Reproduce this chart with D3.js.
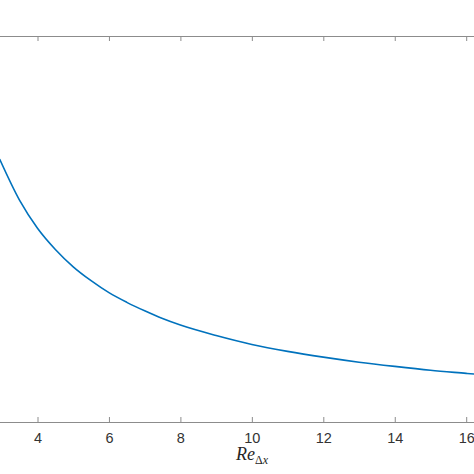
<!DOCTYPE html>
<html>
<head>
<meta charset="utf-8">
<script src="https://cdn.jsdelivr.net/npm/d3@7"></script>
<style>
  body { margin: 0; background: #fff; }
  .tick text { font-family: "Liberation Sans", Arial, sans-serif; font-size: 14.5px; fill: #333; }
  .axis-title { font-family: "Liberation Serif", "DejaVu Serif", serif; fill: #262626; }
</style>
</head>
<body>
<svg id="canvas"></svg>
<script>
// Curve samples (Re_dx, value).
var reValues = [2.94, 3.5, 4, 4.5, 5, 5.5, 6, 6.5, 7, 7.5, 8, 9, 10, 11, 12, 13, 14, 15, 16, 16.5];
var yValues = [0.681, 0.574, 0.502, 0.447, 0.402, 0.366, 0.335, 0.310, 0.288, 0.268, 0.251, 0.224, 0.201, 0.183, 0.168, 0.155, 0.144, 0.134, 0.126, 0.122];

// Tick values shown on the x axis.
var xTicks = [4, 6, 8, 10, 12, 14, 16];

// Canvas properties.
var canvas = { width: 474, height: 474 };

// Plot box (part of it is outside the picture).
var box = { top: 36, bottom: 422 };

var svg = d3.select('#canvas')
            .attr('width', canvas.width)
            .attr('height', canvas.height);

// Scales.
var xScale = d3.scaleLinear().domain([4, 16]).range([37.5, 466.2]);
var yScale = d3.scaleLinear().domain([0, 1]).range([box.bottom, box.top]);

// Curve.
var data = reValues.map(function(r, i) { return { re: r, y: yValues[i] }; });
var line = d3.line()
             .x(function(d) { return xScale(d.re); })
             .y(function(d) { return yScale(d.y); })
             .curve(d3.curveMonotoneX);

svg.append('path')
   .datum(data)
   .attr('d', line)
   .attr('fill', 'none')
   .attr('stroke', '#0072BD')
   .attr('stroke-width', 1.6);

// Bottom axis, ticks pointing inwards.
var xAxis = d3.axisBottom(xScale).tickValues(xTicks).tickSizeInner(-5).tickSizeOuter(0).tickPadding(11);
var gx = svg.append('g')
            .attr('transform', 'translate(0,' + box.bottom + ')')
            .call(xAxis);
gx.select('.domain').remove();
gx.selectAll('.tick line').attr('stroke', '#8c8c8c');

// Top axis, ticks only.
var xTop = d3.axisTop(xScale).tickValues(xTicks).tickSizeInner(-5).tickSizeOuter(0).tickFormat('');
var gt = svg.append('g')
            .attr('transform', 'translate(0,' + box.top + ')')
            .call(xTop);
gt.select('.domain').remove();
gt.selectAll('.tick line').attr('stroke', '#8c8c8c');

// Box lines across the picture.
[box.top, box.bottom].forEach(function(y) {
  svg.append('line')
     .attr('x1', 0).attr('x2', canvas.width)
     .attr('y1', y + 0.5).attr('y2', y + 0.5)
     .attr('stroke', '#8c8c8c')
     .attr('stroke-width', 1);
});

// Axis title: Re with subscript delta x.
var title = svg.append('text')
               .attr('class', 'axis-title')
               .attr('x', 236)
               .attr('y', 460);
title.append('tspan').attr('font-style', 'italic').attr('font-size', 18).text('Re');
title.append('tspan').attr('font-size', 12).attr('dy', 4).text('Δ');
title.append('tspan').attr('font-size', 12).attr('font-style', 'italic').text('x');
</script>
</body>
</html>
